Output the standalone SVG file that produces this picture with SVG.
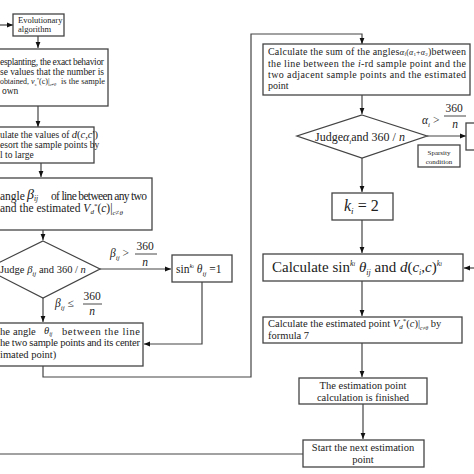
<svg xmlns="http://www.w3.org/2000/svg" width="474" height="474" viewBox="0 0 474 474">
<defs>
<marker id="ah" viewBox="0 0 10 10" refX="10" refY="5" markerWidth="7" markerHeight="6" markerUnits="userSpaceOnUse" orient="auto"><path d="M0,1 L10,5 L0,9 z" fill="#111"/></marker>
</defs>
<style>
.box{fill:#fff;stroke:#444;stroke-width:1.3}
.ln{fill:none;stroke:#444;stroke-width:1.2}
.arr{marker-end:url(#ah)}
.fl{stroke:#333;stroke-width:0.9}
text{font-family:"Liberation Serif","Times New Roman",serif;fill:#222}
.s7{font-size:7px}
.s8{font-size:8.5px}
.s9{font-size:9.5px}
.s10{font-size:10.5px}
.s11{font-size:11.5px}
.s15{font-size:15px}
.i{font-style:italic}
.m{text-anchor:middle}
</style>

<g id="connectors">
<path class="ln arr" d="M0,25 H13"/>
<path class="ln arr" d="M38,36 V48"/>
<path class="ln arr" d="M38,106 V127"/>
<path class="ln arr" d="M41,163 V177"/>
<path class="ln arr" d="M43,230 V240"/>
<path class="ln arr" d="M100,269 H171"/>
<path class="ln arr" d="M43,298 V322"/>
<path class="ln arr" d="M202,282 V344 H144"/>
<path class="ln arr" d="M43,366 V377 H251 V34 H362 V44"/>
<path class="ln arr" d="M362,95 V114"/>
<path class="ln arr" d="M427,136 H466"/>
<path class="ln arr" d="M362,158 V192"/>
<path class="ln arr" d="M362,220 V253"/>
<path class="ln arr" d="M474,268 H464"/>
<path class="ln arr" d="M362,281 V316"/>
<path class="ln arr" d="M362,343 V377"/>
<path class="ln arr" d="M363,404 V439"/>
<path class="ln" d="M303,454 H0"/>
<!-- labels -->
<text class="s11 i" x="110" y="257">β<tspan class="s7" dy="3">ij</tspan><tspan dy="-3" font-style="normal"> &gt;</tspan></text>
<text class="s11 m" x="145" y="250">360</text>
<line class="fl" x1="135" y1="254" x2="157" y2="254"/>
<text class="s11 i m" x="145" y="266">n</text>
<text class="s11 i" x="55" y="307">β<tspan class="s7" dy="3">ij</tspan><tspan dy="-3" font-style="normal"> ≤</tspan></text>
<text class="s11 m" x="92" y="300">360</text>
<line class="fl" x1="83" y1="304" x2="102" y2="304"/>
<text class="s11 i m" x="92" y="315">n</text>
<text class="s11 i" x="422" y="124">α<tspan class="s7" dy="3">i</tspan><tspan dy="-3" font-style="normal"> &gt;</tspan></text>
<text class="s11 m" x="454" y="112">360</text>
<line class="fl" x1="444" y1="116" x2="466" y2="116"/>
<text class="s11 i m" x="455" y="128">n</text>
</g>

<g id="evo">
<rect class="box" x="13" y="14" width="51" height="22"/>
<text class="s8" x="18" y="23">Evolutionary</text>
<text class="s8" x="18" y="32">algorithm</text>
</g>

<g id="transplant">
<rect class="box" x="-5" y="49" width="113" height="57"/>
<text class="s9" x="0" y="65" textLength="104" lengthAdjust="spacing">esplanting, the exact behavior</text>
<text class="s9" x="0" y="74.5" textLength="104" lengthAdjust="spacing">se values that the number is</text>
<text x="0" y="84" font-size="8.8" textLength="29" lengthAdjust="spacingAndGlyphs">obtained,</text>
<text class="i" x="31" y="84" font-size="8">v<tspan font-size="5" dy="2">s</tspan><tspan font-size="5" dy="-5">*</tspan><tspan dy="3" font-style="normal">(c)|</tspan><tspan font-size="4.5" dy="2">c≠θ</tspan></text>
<text x="61" y="84" font-size="8.8" textLength="44" lengthAdjust="spacingAndGlyphs">is the sample</text>
<text class="s9" x="2" y="94">own</text>
</g>

<g id="sortbox">
<rect class="box" x="-5" y="127" width="99" height="36"/>
<text class="s9" x="0" y="138">ulate the values of <tspan class="i" font-size="10.5">d</tspan><tspan font-size="10.5">(<tspan class="i">c</tspan>,<tspan class="i">c</tspan>')</tspan></text>
<text class="s9" x="0" y="148">esort the sample points by</text>
<text class="s9" x="0" y="158">l to large</text>
</g>

<g id="betabox">
<rect class="box" x="-5" y="178" width="157" height="52"/>
<text class="s11" x="0" y="200">angle</text>
<text class="i" x="27" y="199" font-size="14">β<tspan font-size="7.5" dy="2">ij</tspan></text>
<text class="s11" x="51" y="200" textLength="96" lengthAdjust="spacing">of line between any two</text>
<text class="s11" x="0" y="212">and the estimated <tspan class="i">V</tspan><tspan class="s7 i" dy="2">d</tspan><tspan class="s7" dy="-6">*</tspan><tspan dy="4">(<tspan class="i">c</tspan>)|</tspan><tspan class="s7 i" dy="3">c≠θ</tspan></text>
</g>

<g id="judgebeta">
<polygon class="box" points="43,241 100,269 43,298 -14,269"/>
<text class="s10" x="0" y="273">Judge <tspan class="i">β</tspan><tspan class="s7 i" dy="3">ij</tspan><tspan dy="-3"> and 360  / </tspan><tspan class="i">n</tspan></text>
</g>

<g id="sinone">
<rect class="box" x="172" y="255" width="60" height="27"/>
<text class="s11" x="176" y="273">sin<tspan class="s7 i" dy="-5">k<tspan font-size="5">i</tspan></tspan><tspan class="i" dy="5"> θ</tspan><tspan class="s7 i" dy="3">ij</tspan><tspan dy="-3"> =1</tspan></text>
</g>

<g id="thetabox">
<rect class="box" x="-5" y="323" width="148" height="43"/>
<text class="s10" x="0" y="334.5">he</text>
<text class="s10" x="13" y="334.5">angle</text>
<text class="s10 i" x="44" y="334">θ<tspan font-size="6" dy="1.5">ij</tspan></text>
<text class="s10" x="62" y="334.5" textLength="78" lengthAdjust="spacing">between the line</text>
<text class="s10" x="0" y="346" textLength="140" lengthAdjust="spacing">he two sample points and its center</text>
<text class="s10" x="0" y="357.5">imated point)</text>
</g>

<g id="sumbox">
<rect class="box" x="263" y="44" width="207" height="51"/>
<text font-size="10" x="268" y="55" textLength="198" lengthAdjust="spacing">Calculate the sum of the angles<tspan class="i" font-size="9">α</tspan><tspan class="i" font-size="5.5" dy="1">i</tspan><tspan font-size="8" dy="-1">(<tspan class="i">α</tspan></tspan><tspan font-size="5" dy="1">1</tspan><tspan font-size="8" dy="-1">+<tspan class="i">α</tspan></tspan><tspan font-size="5" dy="1">2</tspan><tspan dy="-1">)between</tspan></text>
<text font-size="10" x="268" y="66.5" textLength="198" lengthAdjust="spacing">the line between the <tspan class="i">i</tspan>-rd sample point and the</text>
<text font-size="10" x="268" y="77.5" textLength="198" lengthAdjust="spacing">two adjacent sample points and the estimated</text>
<text font-size="10" x="268" y="88.5">point</text>
</g>

<g id="judgealpha">
<polygon class="box" points="362,115 427,136 362,158 297,136"/>
<text x="315" y="141" font-size="12">Judge<tspan class="i">α</tspan><tspan class="s7 i" dy="3">i</tspan><tspan dy="-3">and 360  / </tspan><tspan class="i">n</tspan></text>
</g>

<g id="rightcut">
<rect class="box" x="466" y="123" width="20" height="27"/>
</g>

<g id="sparsity">
<rect class="box" x="418" y="145" width="42" height="22" stroke-width="1"/>
<text class="s7 m" x="439" y="155">Sparsity</text>
<text class="s7 m" x="439" y="164">condition</text>
</g>

<g id="kbox">
<rect class="box" x="332" y="193" width="61" height="27"/>
<text x="344" y="211" font-size="16"><tspan class="i">k</tspan><tspan class="i" font-size="9" dy="3">i</tspan><tspan dy="-3"> = 2</tspan></text>
</g>

<g id="calcsin">
<rect class="box" x="263" y="254" width="200" height="27"/>
<text class="s15" x="272" y="272">Calculate sin<tspan class="i" font-size="8" dy="-6">k<tspan font-size="6">i</tspan></tspan><tspan class="i" dy="6"> θ</tspan><tspan class="i" font-size="8" dy="3">ij</tspan><tspan dy="-3">  and  </tspan><tspan class="i">d</tspan>(<tspan class="i">c</tspan><tspan class="i" font-size="8" dy="3">i</tspan><tspan dy="-3">,</tspan><tspan class="i">c</tspan>)<tspan class="i" font-size="8" dy="-6">k<tspan font-size="6">i</tspan></tspan></text>
</g>

<g id="estimated">
<rect class="box" x="263" y="317" width="199" height="26"/>
<text class="s10" x="268" y="327">Calculate the estimated point <tspan class="i">V</tspan><tspan class="s7 i" dy="2">d</tspan><tspan class="s7" dy="-6">*</tspan><tspan dy="4">(<tspan class="i">c</tspan>)|</tspan><tspan font-size="5.5" class="i" dy="3">c≠θ</tspan><tspan dy="-3">   by</tspan></text>
<text class="s10" x="268" y="339">formula 7</text>
</g>

<g id="finished">
<rect class="box" x="299" y="378" width="128" height="26"/>
<text class="s10 m" x="363" y="389">The estimation point</text>
<text class="s10 m" x="363" y="401">calculation is finished</text>
</g>

<g id="next">
<rect class="box" x="303" y="440" width="121" height="27"/>
<text class="s10 m" x="363" y="451">Start the next estimation</text>
<text class="s10 m" x="363" y="463">point</text>
</g>
</svg>
